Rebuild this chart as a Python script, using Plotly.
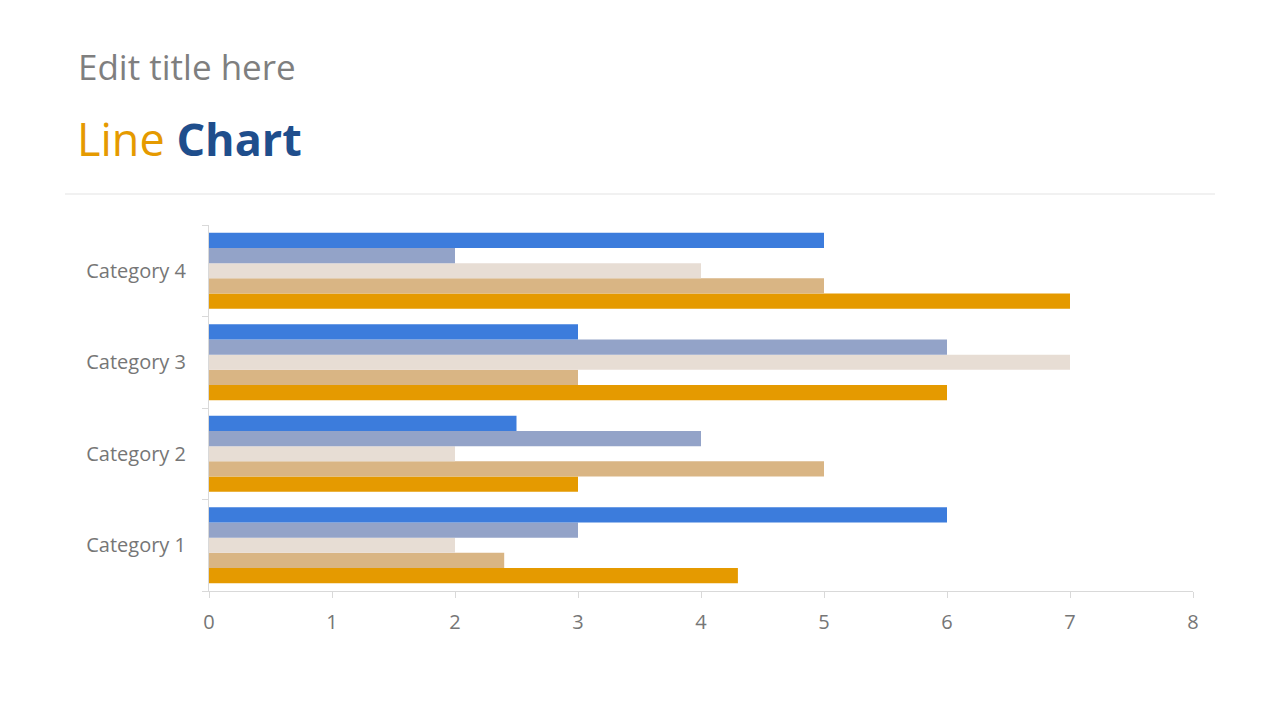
import plotly.graph_objects as go

categories = ["Category 1", "Category 2", "Category 3", "Category 4"]
series_names = ["Series 5", "Series 4", "Series 3", "Series 2", "Series 1"]
orange_vals = [4.3, 3, 6, 7]
tan_vals = [2.4, 5, 3, 5]
light_vals = [2, 2, 7, 4]
bluegray_vals = [3, 4, 6, 2]
blue_vals = [6, 2.5, 3, 5]
colors = ["#E59A00", "#D9B584", "#E7DDD4", "#93A3C8", "#3C7CDC"]

W, H = 1280, 720
OFF = 8  # page body margin
L, T = 209 - OFF, 225 - OFF
pw, ph = 984, 366
R, B = W - L - pw, H - T - ph

def px_x(x):
    return (x - OFF - L) / pw

def px_y(y):
    return (T + ph - (y - OFF)) / ph

fig = go.Figure()
for name, vals, c in zip(series_names,
                         [orange_vals, tan_vals, light_vals, bluegray_vals, blue_vals],
                         colors):
    fig.add_trace(go.Bar(y=categories, x=vals, orientation="h", name=name,
                         marker=dict(color=c, line=dict(width=0))))

fig.update_layout(
    width=W, height=H,
    margin=dict(l=L, r=R, t=T, b=B),
    paper_bgcolor="white", plot_bgcolor="white",
    barmode="group", bargap=0.17, bargroupgap=0,
    showlegend=False,
    font=dict(family="Open Sans", color="#767676", size=20),
    xaxis=dict(range=[0, 8], dtick=1, showgrid=False, zeroline=False,
               showline=True, linecolor="#D9D9D9", linewidth=1,
               ticks="outside", ticklen=6, tickcolor="#D9D9D9",
               ticklabelstandoff=7,
               tickfont=dict(size=20, color="#767676")),
    yaxis=dict(showgrid=False, zeroline=False, showline=True,
               linecolor="#D9D9D9", linewidth=1,
               ticks="outside", ticklen=6, tickcolor="#D9D9D9",
               tickson="boundaries", ticklabelstandoff=18,
               tickfont=dict(size=20, color="#767676")),
)

fig.add_annotation(xref="paper", yref="paper", x=px_x(76), y=px_y(66),
                   xanchor="left", yanchor="middle", showarrow=False,
                   text="Edit title here",
                   font=dict(family="Open Sans", size=35, color="#7F7F7F"))
fig.add_annotation(xref="paper", yref="paper", x=px_x(75), y=px_y(138),
                   xanchor="left", yanchor="middle", showarrow=False,
                   text="<span style='color:#E59A00'>Line</span> <b><span style='color:#1F4E8C'>Chart</span></b>",
                   font=dict(family="Open Sans", size=45, color="#E59A00"))
fig.add_shape(type="line", xref="paper", yref="paper",
              x0=px_x(65), x1=px_x(1215), y0=px_y(194), y1=px_y(194),
              line=dict(color="#E3E3E3", width=1))

fig.write_html("out.html")
